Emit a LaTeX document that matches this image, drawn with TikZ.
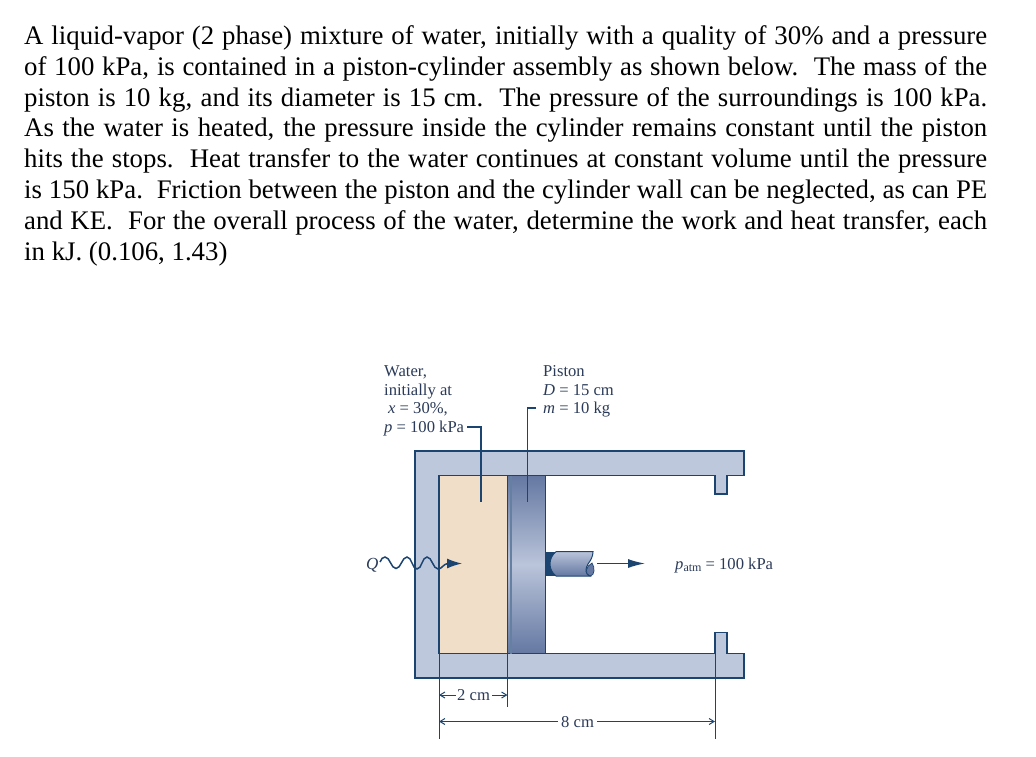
\documentclass[tikz,border=0pt]{standalone}
\usepackage{fontspec}
\setmainfont{Liberation Serif}
\usetikzlibrary{arrows.meta}
\definecolor{wall}{RGB}{190,200,221}
\definecolor{edge}{RGB}{28,68,112}
\definecolor{water}{RGB}{241,222,201}
\definecolor{pdark}{RGB}{100,120,162}
\definecolor{plight}{RGB}{186,196,218}
\definecolor{ink}{RGB}{42,58,88}
\tikzset{
  x=1pt,y=-1pt,
  para/.style={anchor=base west,inner sep=0pt,text=black,font=\fontsize{26.8}{26.8}\selectfont},
  lab/.style={anchor=base west,inner sep=0pt,text=ink,font=\fontsize{16.6}{16.6}\selectfont},
  wallshape/.style={fill=wall,draw=edge,line width=1.3pt},
  leader/.style={draw=edge,line width=1.2pt},
  dimline/.style={draw=edge,line width=1pt},
  flow/.style={draw=edge,line width=1.3pt,-{Latex[length=15pt,width=10pt]}},
  barbstart/.style={{Straight Barb[length=5pt,width=6pt]}-},
  barbend/.style={-{Straight Barb[length=5pt,width=6pt]}},
}
\begin{document}
\begin{tikzpicture}
\useasboundingbox (0,0) rectangle (1036,756);
% paragraph
\path (24,44) node[para] (l1) {\makebox[963pt][s]{A liquid-vapor (2 phase) mixture of water, initially with a quality of 30\% and a pressure}};
\path (24,75) node[para] (l2) {\makebox[963pt][s]{of 100 kPa, is contained in a piston-cylinder assembly as shown below.\ \ The mass of the}};
\path (24,106) node[para] (l3) {\makebox[963pt][s]{piston is 10 kg, and its diameter is 15 cm.\ \ The pressure of the surroundings is 100 kPa.}};
\path (24,136) node[para] (l4) {\makebox[963pt][s]{As the water is heated, the pressure inside the cylinder remains constant until the piston}};
\path (24,167) node[para] (l5) {\makebox[963pt][s]{hits the stops.\ \ Heat transfer to the water continues at constant volume until the pressure}};
\path (24,198) node[para] (l6) {\makebox[963pt][s]{is 150 kPa.\ \ Friction between the piston and the cylinder wall can be neglected, as can PE}};
\path (24,229) node[para] (l7) {\makebox[963pt][s]{and KE.\ \ For the overall process of the water, determine the work and heat transfer, each}};
\path (24,260) node[para] (l8) {in kJ. (0.106, 1.43)};
% cylinder
\path[fill=water] (439,475) rectangle (508,653.5);
\draw[wallshape] (415,451) -- (744,451) -- (744,475.5) -- (727,475.5) -- (727,494) -- (715,494) -- (715,475.5)
  -- (439,475.5) -- (439,653.5) -- (715,653.5) -- (715,632.5) -- (727,632.5) -- (727,653.5) -- (744,653.5)
  -- (744,678) -- (415,678) -- cycle;
% piston
\path[top color=pdark,bottom color=pdark,middle color=plight,draw=edge,line width=1pt] (507.5,475.5) rectangle (545,653.5);
\draw[edge!55!wall,line width=1.5pt] (510.8,475.5) -- (510.8,653.5);
% rod
\fill[edge] (545,551.5) -- (556,551.5) -- (556,576) -- (545,576) -- cycle;
\path[top color=plight,bottom color=pdark,draw=edge,line width=1pt] (556,551.7) -- (593,551.7)
  .. controls (593,556) and (591,560) .. (588,564) .. controls (585,569) and (585,574) .. (590,576) -- (556,576)
  .. controls (548,570) and (548,558) .. (556,551.7) -- cycle;
\fill[pdark,draw=edge,line width=0.7pt] (592,563) .. controls (586,566) and (584,574) .. (590,576) .. controls (595,576) and (595,567) .. (592,563) -- cycle;
\coordinate (rodtip) at (597,563.5);
\coordinate (rodhead) at (645,563.5);
\draw[flow,-{Latex[length=17pt,width=9pt]}] (rodtip) -- (rodhead);
% heat
\node[lab,font=\fontsize{17}{17}\selectfont\itshape] (Q) at (366,569) {Q};
\coordinate (qs) at (380,562);
\coordinate (qe) at (448,563.5);
\coordinate (qh) at (462,563.5);
\draw[edge,line width=1.5pt] (qs) .. controls (381,559) and (383,557) .. (385,557)
 .. controls (390,557) and (391,568.5) .. (396,568.5) .. controls (401,568.5) and (402,557) .. (407,557)
 .. controls (412,557) and (412,569) .. (417,569) .. controls (422,569) and (422,557) .. (427,557)
 .. controls (432,557) and (433,569) .. (438,569) .. controls (442,569) and (443,564) .. (qe);
\draw[flow] (qe) ++(-2,0) -- (qh);
% labels
\node[lab] (w1) at (384,376) {Water,};
\node[lab] (w2) at (384,395) {initially at};
\node[lab] (w3) at (388,413) {\textit{x} = 30\%,};
\node[lab] (w4) at (384,432) {\textit{p} = 100 kPa};
\node[lab] (p1) at (543,376) {Piston};
\node[lab] (p2) at (543,395) {\textit{D} = 15 cm};
\node[lab] (p3) at (543,413) {\textit{m} = 10 kg};
\node[lab] (atm) at (675,569) {\textit{p}\raisebox{-2.5pt}{\fontsize{12}{12}\selectfont atm} = 100 kPa};
% leaders
\coordinate (wt) at (481,502);
\coordinate (pt) at (527.7,502);
\coordinate (wc) at (481,427);
\coordinate (pc) at (527.7,408);
\draw[leader] (w4.east |- wc) ++(3,0) -- (wc) -- (wt);
\draw[leader] (p3.west |- pc) ++(-7,0) -- (pc) -- (pt);
% dimensions
\coordinate (d0) at (439,653.5);
\coordinate (d0b) at (439,739);
\coordinate (d2) at (507.5,653.5);
\coordinate (d2b) at (507.5,707);
\coordinate (d8) at (715,653.5);
\coordinate (d8b) at (715,739);
\draw[dimline] (d0) -- (d0b);
\draw[dimline] (d2) -- (d2b);
\draw[dimline] (d8) -- (d8b);
\node[lab] (two) at (457,700) {2 cm};
\node[lab] (eight) at (561,727) {8 cm};
\draw[dimline,barbstart] (439,695) -- ([xshift=-1pt]two.west |- 0,695);
\draw[dimline,barbend] ([xshift=2pt]two.east |- 0,695) -- (507.5,695);
\draw[dimline,barbstart] (439,721.5) -- ([xshift=-3pt]eight.west |- 0,721.5);
\draw[dimline,barbend] ([xshift=3pt]eight.east |- 0,721.5) -- (715,721.5);
\end{tikzpicture}
\end{document}
